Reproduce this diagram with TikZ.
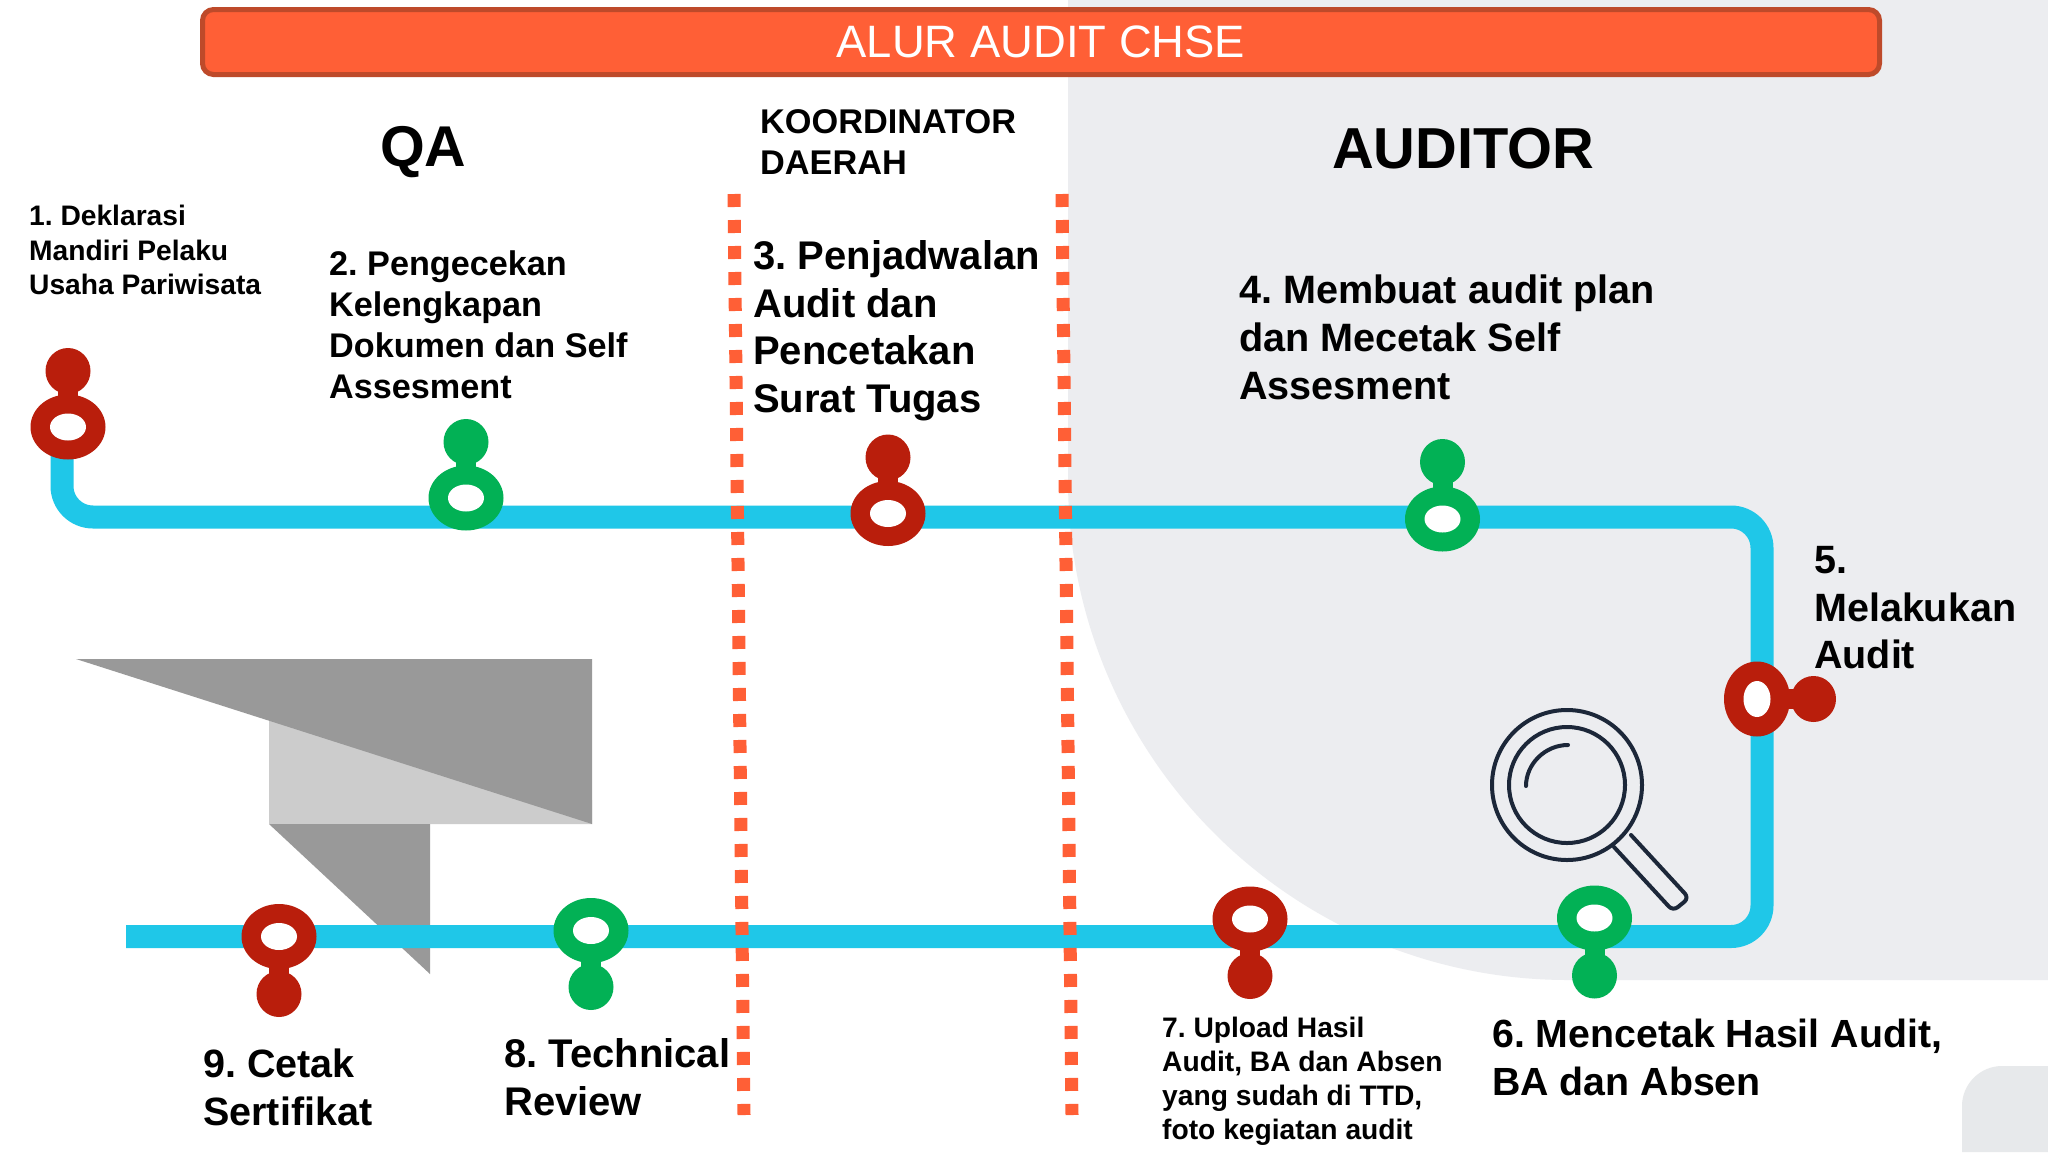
\documentclass[tikz,border=0pt]{standalone}
\usepackage{fontspec}
\setmainfont{Liberation Sans}
\usetikzlibrary{shapes.geometric}
\definecolor{railc}{HTML}{1FC7E8}
\definecolor{orangec}{HTML}{FF5F36}
\definecolor{borderc}{HTML}{BE4A2A}
\definecolor{redc}{HTML}{B91E0C}
\definecolor{greenc}{HTML}{02B155}
\definecolor{panelc}{HTML}{ECEDF0}
\definecolor{cornerc}{HTML}{E7E9EB}
\definecolor{navyc}{HTML}{1C2739}
\newcommand{\lab}[2]{\frenchspacing\fontsize{#1}{#2}\selectfont\bfseries}
\tikzset{
  rail/.style={draw=railc,line width=23pt,rounded corners=31pt},
  divider/.style={draw=orangec,line width=13pt,dash pattern=on 13pt off 13pt},
  ring/.style={ellipse,inner sep=0pt,minimum width=75pt,minimum height=65pt},
  ringv/.style={ellipse,inner sep=0pt,minimum width=66pt,minimum height=75pt},
  hole/.style={ellipse,fill=white,inner sep=0pt,minimum width=36pt,minimum height=27pt},
  holev/.style={ellipse,fill=white,inner sep=0pt,minimum width=27pt,minimum height=36pt},
  knob/.style={ellipse,inner sep=0pt,minimum width=45pt,minimum height=46pt},
  lbl/.style={anchor=base west,inner sep=0pt,align=left,text=black},
  glass/.style={draw=navyc,line width=4pt,line cap=round},
}
% name, x, ring y, knob y, colour
\newcommand{\pinV}[5]{%
  \node[ring,fill=#5] (#1) at (#2,#3) {};
  \node[knob,fill=#5] (#1k) at (#2,#4) {};
  \draw[draw=#5,line width=20pt] (#1k.center) -- (#1.center);
  \node[hole] (#1h) at (#2,#3) {};
}
\begin{document}
\begin{tikzpicture}[x=1pt,y=-1pt]
\useasboundingbox (0,0) rectangle (2048,1152);
\fill[white] (0,0) rectangle (2048,1152);
% panels
\fill[panelc] (1068,0) -- (1068,480) .. controls (1068,756) and (1292,980) .. (1568,980) -- (2048,980) -- (2048,0) -- cycle;
\fill[cornerc] (2048,1152) -- (1962,1152) -- (1962,1106) .. controls (1962,1084) and (1980,1066) .. (2002,1066) -- (2048,1066) -- cycle;
% grey shapes
\fill[black!20] (269,700) -- (592,800) -- (592,824) -- (269,824) -- cycle;
\fill[black!40] (76,659) -- (592,659) -- (592,824) -- cycle;
\fill[black!40] (269,824) -- (430,824) -- (430,974) -- cycle;
% magnifier
\draw[glass] (1567,785) circle [radius=75pt];
\draw[glass] (1567,785) circle [radius=58pt];
\draw[glass] (1526,786) .. controls (1526,764) and (1545,745) .. (1568,745);
\draw[glass,rounded corners=6pt] (1614,847) -- (1673,911) -- (1689,898) -- (1631,835);
% rail
\coordinate (railA) at (62,430);
\coordinate (railB) at (62,517);
\coordinate (railC) at (1762,517);
\coordinate (railD) at (1762,936.5);
\coordinate (railE) at (126,936.5);
\draw[rail] (railA) -- (railB) -- (railC) -- (railD) -- (railE);
% dividers
\coordinate (divAt) at (734,194);
\coordinate (divAb) at (744,1115);
\coordinate (divBt) at (1062,194);
\coordinate (divBb) at (1072,1115);
\draw[divider] (divAt) -- (divAb);
\draw[divider] (divBt) -- (divBb);
% title
\node[draw=borderc,fill=orangec,line width=5pt,rounded corners=11pt,minimum width=1677pt,minimum height=65pt,inner sep=0pt,text=white,font=\frenchspacing\fontsize{45.4}{50}\selectfont] (title) at (1041,42) {\raisebox{-1.5pt}{ALUR AUDIT CHSE}};
% pins
\pinV{pa}{68}{427}{371}{redc}
\pinV{pb}{466}{498}{442}{greenc}
\pinV{pc}{888}{513.5}{457.5}{redc}
\pinV{pd}{1442.5}{519}{462}{greenc}
\node[ringv,fill=redc] (pe) at (1757,699) {};
\node[knob,fill=redc] (pek) at (1813.5,699) {};
\draw[draw=redc,line width=20pt] (pek.center) -- (pe.center);
\node[holev] (peh) at (1757,699) {};
\pinV{pf}{1594.5}{918}{975.5}{greenc}
\pinV{pg}{1250}{919}{976}{redc}
\pinV{ph}{591}{930.5}{987}{greenc}
\pinV{pi}{279}{936.5}{994}{redc}
% headings
\node[lbl,font=\lab{57.5}{60}] (qa) at (380,166) {QA};
\node[lbl,font=\lab{34.3}{41}] (koor) at (760,174) {KOORDINATOR\\DAERAH};
\node[lbl,font=\lab{57.8}{60}] (aud) at (1332,168) {AUDITOR};
% labels
\node[lbl,font=\lab{28.2}{34.3}] (ta) at (29,294.5) {1. Deklarasi\\Mandiri Pelaku\\Usaha Pariwisata};
\node[lbl,font=\lab{34.2}{41}] (tb) at (329,398.5) {2. Pengecekan\\Kelengkapan\\Dokumen dan Self\\Assesment};
\node[lbl,font=\lab{40}{47.7}] (tc) at (753,412.5) {3. Penjadwalan\\Audit dan\\Pencetakan\\Surat Tugas};
\node[lbl,font=\lab{39.6}{48}] (td) at (1239,399) {4. Membuat audit plan\\dan Mecetak Self\\Assesment};
\node[lbl,font=\lab{39.5}{47.5}] (te) at (1814,668.5) {5.\\Melakukan\\Audit};
\node[lbl,font=\lab{39.3}{47.5}] (tf) at (1492,1095) {6. Mencetak Hasil Audit,\\BA dan Absen};
\node[lbl,font=\lab{28.2}{34}] (tg) at (1162,1139) {7. Upload Hasil\\Audit, BA dan Absen\\yang sudah di TTD,\\foto kegiatan audit};
\node[lbl,font=\lab{40}{48}] (th) at (504,1115) {8. Technical\\Review};
\node[lbl,font=\lab{39.5}{48}] (ti) at (203,1125) {9. Cetak\\Sertifikat};
\end{tikzpicture}
\end{document}
